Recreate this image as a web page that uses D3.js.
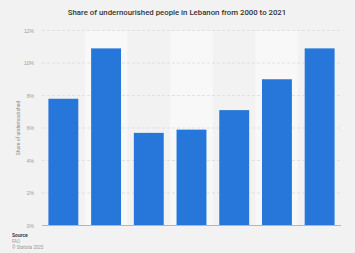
<!DOCTYPE html>
<html><head><meta charset="utf-8">
<script src="https://cdn.jsdelivr.net/npm/d3@7"></script>
<style>html,body{margin:0;padding:0;background:#f2f2f2;}svg{display:block;font-family:Roboto,"Open Sans",Arial,sans-serif;}</style>
</head><body>
<svg id="c" width="355" height="253"></svg>
<script>
const categories = ["2000","2005","2010","2015","2019","2020","2021"];
const values = [7.8, 10.9, 5.7, 5.9, 7.1, 9.0, 10.9];
const yTicks = [0, 2, 4, 6, 8, 10, 12];
const yTickLabels = ["0%","2%","4%","6%","8%","10%","12%"];
const title = "Share of undernourished people in Lebanon from 2000 to 2021";
const yTitle = "Share of undernourished";

const svg = d3.select("#c");
const W = 355, H = 253;
svg.append("rect").attr("width", W).attr("height", H).attr("fill", "#f2f2f2");

const x = d3.scaleBand().domain(categories).range([42, 341]).paddingInner(0.3).paddingOuter(0.15);
const y = d3.scaleLinear().domain([0, 12]).range([225.5, 30.5]);

// alternating bands
const step = x.step();
categories.forEach((c, i) => {
  if (i % 2 === 1) {
    svg.append("rect")
      .attr("x", 42 + i * step).attr("y", y(12))
      .attr("width", step).attr("height", y(0) - y(12))
      .attr("fill", "#f8f8f8");
  }
});

// gridlines
const yAxis = d3.axisLeft(y).tickValues(yTicks).tickFormat((d, i) => yTickLabels[i]).tickSize(0).tickPadding(8);
const gy = svg.append("g").attr("transform", "translate(42,0)").call(yAxis);
gy.select(".domain").remove();
gy.selectAll("text").attr("fill", "#9a9a9a").style("font-size", "5px");
svg.append("g").selectAll("line").data(yTicks.filter(d => d > 0)).join("line")
  .attr("x1", 42).attr("x2", 341).attr("y1", d => y(d)).attr("y2", d => y(d))
  .attr("stroke", "#dcdcdc").attr("stroke-width", 0.8).attr("stroke-dasharray", "3,2");

// bars
svg.append("g").selectAll("rect").data(values).join("rect")
  .attr("x", (d, i) => x(categories[i])).attr("y", d => y(d))
  .attr("width", x.bandwidth()).attr("height", d => y(0) - y(d))
  .attr("fill", "#2776d9");

// baseline
svg.append("line").attr("x1", 42).attr("x2", 341).attr("y1", y(0)).attr("y2", y(0))
  .attr("stroke", "#b5b5b5").attr("stroke-width", 1);

// title
svg.append("text").attr("x", 177).attr("y", 15).attr("text-anchor", "middle")
  .attr("fill", "#333").style("font-size", "7.8px").style("font-weight", "500").text(title);

// y title
svg.append("text").attr("transform", `translate(20,${(y(0) + y(12)) / 2}) rotate(-90)`)
  .attr("text-anchor", "middle").attr("fill", "#8a8a8a").style("font-size", "5px").text(yTitle);

// source
svg.append("text").attr("x", 12).attr("y", 237).attr("fill", "#333").style("font-size", "5px").style("font-weight", "600").text("Source");
svg.append("text").attr("x", 12).attr("y", 243).attr("fill", "#999").style("font-size", "4.5px").text("FAO");
svg.append("text").attr("x", 12).attr("y", 249).attr("fill", "#999").style("font-size", "4.5px").text("© Statista 2025");
</script>
</body></html>
